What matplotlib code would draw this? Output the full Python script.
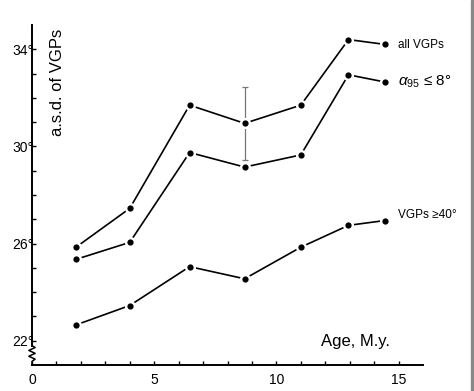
import matplotlib
matplotlib.use("Agg")
import matplotlib.pyplot as plt
from matplotlib.patches import Rectangle

plt.rcParams['font.family'] = ['Liberation Sans', 'DejaVu Sans']
plt.rcParams['mathtext.fontset'] = 'custom'
plt.rcParams['mathtext.rm'] = 'Liberation Sans'
plt.rcParams['mathtext.it'] = 'Liberation Sans:italic'

# age in M.y.
ages = [1.8, 4.0, 6.45, 8.7, 11.0, 12.95, 14.45]
# angular standard deviation of VGPs (degrees)
all_vgps = [25.85, 27.45, 31.7, 30.95, 31.7, 34.4, 34.2]
alpha95_le8 = [25.35, 26.05, 29.75, 29.15, 29.65, 32.95, 32.65]
vgps_ge40 = [22.65, 23.45, 25.05, 24.55, 25.85, 26.75, 26.95]
series = [all_vgps, alpha95_le8, vgps_ge40]
series_labels = ["all VGPs", r"$\alpha_{95}$ ≤ 8°", "VGPs ≥40°"]

err_age = 8.7
err_val = 30.95
err_size = 1.5

ytick_vals = [22, 26, 30, 34]
ytick_labels = ["22°", "26°", "30°", "34°"]
xtick_vals = [0, 5, 10, 15]

fig = plt.figure(figsize=(4.74, 3.91), dpi=100)
ax = fig.add_axes([32 / 474, 1 - 365 / 391, 391 / 474, 340 / 391])

for ys in series:
    ax.plot(ages, ys, color="black", lw=1.2, zorder=2)
    # white halo leaves a small gap between line and dot
    ax.plot(ages, ys, ls="none", marker="o", ms=8, mfc="white", mec="none", zorder=3)
    ax.plot(ages, ys, ls="none", marker="o", ms=4.5, mfc="black", mec="none", zorder=4)

ax.errorbar([err_age], [err_val], yerr=[err_size], fmt="none",
            ecolor="#777777", elinewidth=0.9, capsize=2.5, capthick=0.9, zorder=1)

ax.set_xlim(0, 16)
ax.set_ylim(21, 35)
ax.spines["top"].set_visible(False)
ax.spines["right"].set_visible(False)
ax.spines["left"].set_bounds(21.8, 35)
for sp in ("left", "bottom"):
    ax.spines[sp].set_linewidth(1.4)

ax.set_xticks(xtick_vals)
ax.set_xticks(range(0, 16), minor=True)
ax.set_yticks(ytick_vals)
ax.set_yticklabels(ytick_labels)
ax.set_yticks(range(22, 35), minor=True)
ax.tick_params(which="both", direction="in", length=3, width=1, labelsize=10, pad=2)
ax.tick_params(axis="x", pad=6)
ax.tick_params(axis="y", pad=-1)

# axis break zigzag on the y axis
tr = ax.get_yaxis_transform()
zx = [0, 0.008, -0.008, 0.008, -0.008, 0.008, 0, 0]
zy = [21.8, 21.72, 21.6, 21.48, 21.36, 21.24, 21.15, 21.0]
ax.plot(zx, zy, color="black", lw=1.1, transform=tr, clip_on=False, zorder=4)

label_pos = [45, 82, 215]
label_sizes = [8.5, 11, 8.5]
for py, lab, fs in zip(label_pos, series_labels, label_sizes):
    fig.text(398 / 474, 1 - py / 391, lab, fontsize=fs, va="center", ha="left")

ax.text(0.066, 0.99, "a.s.d. of VGPs", rotation=90, transform=ax.transAxes,
        fontsize=12, va="top", ha="center")
ax.text(0.826, 0.068, "Age, M.y.", transform=ax.transAxes,
        fontsize=12, va="center", ha="center")

fig.patches.append(Rectangle((471 / 474, 0), 3 / 474, 1, transform=fig.transFigure,
                             color="#888888", zorder=0))

fig.savefig("out.png", dpi=100)
